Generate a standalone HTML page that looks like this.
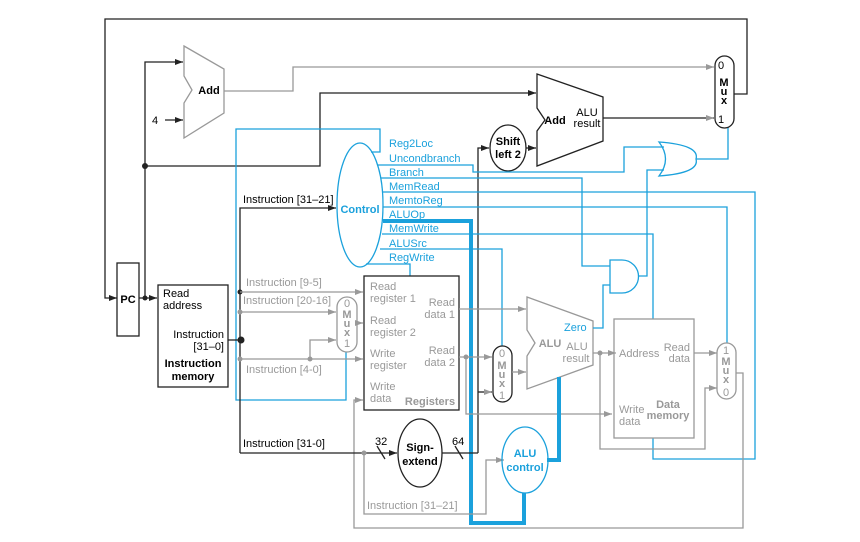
<!DOCTYPE html>
<html><head><meta charset="utf-8"><style>
html,body{margin:0;padding:0;background:#fff;}
svg{display:block;font-family:"Liberation Sans",sans-serif;}
.k{stroke:#222;fill:none;stroke-width:1.3}
.g{stroke:#999;fill:none;stroke-width:1.3}
.b{stroke:#1ba1dc;fill:none;stroke-width:1.3}
.bt{stroke:#1ba1dc;fill:none;stroke-width:4}
text{font-size:11px}
.gt{fill:#999}
.bl{fill:#1ba1dc}
.bd{font-weight:bold}
</style></head><body>
<svg width="860" height="542" viewBox="0 0 860 542" xmlns="http://www.w3.org/2000/svg">
<defs>
<marker id="ak" markerWidth="8" markerHeight="6" refX="8" refY="3" orient="auto" markerUnits="userSpaceOnUse"><path d="M0,0L8,3L0,6Z" fill="#222"/></marker>
<marker id="ag" markerWidth="8" markerHeight="6" refX="8" refY="3" orient="auto" markerUnits="userSpaceOnUse"><path d="M0,0L8,3L0,6Z" fill="#999"/></marker>
</defs>

<!-- top loop -->
<polyline class="k" points="734,94 747,94 747,19 105,19 105,298 117,298" marker-end="url(#ak)"/>
<!-- PC -->
<rect class="k" x="117" y="263" width="22" height="73"/>
<text x="128" y="303" text-anchor="middle" class="bd" font-size="12">PC</text>
<line class="k" x1="139" y1="298" x2="157" y2="298" marker-end="url(#ak)"/>
<circle cx="145" cy="298" r="2.5" fill="#222"/>
<polyline class="k" points="145,298 145,62 183,62" marker-end="url(#ak)"/>
<circle cx="145" cy="166" r="3" fill="#222"/>
<polyline class="k" points="145,166 320,166 320,93 536,93" marker-end="url(#ak)"/>

<!-- Add 1 -->
<polygon class="g" points="184,46 224,69 224,113 184,138 184,103 192,90 184,76"/>
<text x="209" y="94" text-anchor="middle" class="bd">Add</text>
<text x="152" y="124">4</text>
<line class="k" x1="165" y1="120" x2="183" y2="120" marker-end="url(#ak)"/>
<polyline class="g" points="224,91 293,91 293,67 714,67" marker-end="url(#ag)"/>

<!-- Add 2 -->
<polygon class="k" points="537,74 603,97 603,141 537,166 537,131 545,120 537,108"/>
<text x="555" y="124" text-anchor="middle" class="bd">Add</text>
<text x="587" y="116" text-anchor="middle" font-size="11">ALU</text>
<text x="587" y="127" text-anchor="middle" font-size="11">result</text>
<line class="k" x1="603" y1="118" x2="714" y2="118" marker-end="url(#ag)"/>

<!-- top mux -->
<rect class="k" x="715" y="56" width="19" height="72" rx="9.5" stroke="#999"/>
<text x="718" y="69" font-size="10">0</text>
<text x="724" y="86" text-anchor="middle" class="bd" font-size="10">M</text>
<text x="724" y="95" text-anchor="middle" class="bd" font-size="10">u</text>
<text x="724" y="104" text-anchor="middle" class="bd" font-size="10">x</text>
<text x="718" y="123" font-size="10">1</text>

<!-- shift left 2 -->
<ellipse class="k" cx="508" cy="148" rx="18" ry="23"/>
<text x="508" y="145" text-anchor="middle" class="bd">Shift</text>
<text x="508" y="158" text-anchor="middle" class="bd">left 2</text>
<line class="k" x1="526" y1="148" x2="536" y2="148" marker-end="url(#ak)"/>
<polyline class="k" points="478,453 478,148 489,148" marker-end="url(#ak)"/>

<!-- OR gate -->
<path class="b" d="M659,142 Q700,145 696,159 Q700,173 659,176 Q672,159 659,142 Z"/>
<polyline class="b" points="696,159 728,159 728,128"/>
<!-- AND gate -->
<path class="b" d="M610,260 L622,260 A16.5,16.5 0 0 1 622,293 L610,293 Z"/>
<polyline class="b" points="638,276 647,276 647,170 664,170"/>

<!-- Control -->
<ellipse class="b" cx="360" cy="205" rx="23" ry="62"/>
<text x="360" y="213" text-anchor="middle" class="bd bl">Control</text>
<g class="bl">
<text x="389" y="147">Reg2Loc</text>
<text x="389" y="162">Uncondbranch</text>
<text x="389" y="176">Branch</text>
<text x="389" y="190">MemRead</text>
<text x="389" y="204">MemtoReg</text>
<text x="389" y="218">ALUOp</text>
<text x="389" y="232">MemWrite</text>
<text x="389" y="247">ALUSrc</text>
<text x="389" y="261">RegWrite</text>
</g>
<!-- control wires -->
<polyline class="b" points="371,152 380,152 380,129 236,129 236,400 346,400 346,352"/>
<polyline class="b" points="378,165 473,165 473,172 624,172 624,147 664,147"/>
<polyline class="b" points="381,178 582,178 582,266 610,266"/>
<polyline class="b" points="382,192 755,192 755,459 653,459 653,438"/>
<polyline class="b" points="383,207 727,207 727,343"/>
<polyline class="bt" points="383,221 471,221 471,523 524,523 524,493"/>
<polyline class="b" points="382,234 653,234 653,319"/>
<polyline class="b" points="380,249 502,249 502,346"/>
<polyline class="b" points="366,264 410,264 410,276"/>

<!-- Instruction memory -->
<rect class="k" x="158" y="285" width="70" height="102"/>
<text x="163" y="297">Read</text>
<text x="163" y="309">address</text>
<text x="224" y="338" text-anchor="end">Instruction</text>
<text x="224" y="350" text-anchor="end">[31–0]</text>
<text x="193" y="367" text-anchor="middle" class="bd">Instruction</text>
<text x="193" y="380" text-anchor="middle" class="bd">memory</text>
<line class="k" x1="228" y1="340" x2="241" y2="340" stroke-width="2"/>
<circle cx="241" cy="340" r="3.5" fill="#222"/>
<text x="243" y="203">Instruction [31–21]</text>
<polyline class="k" points="240,453 240,208 336,208" marker-end="url(#ak)"/>
<circle cx="240" cy="292" r="2.5" fill="#222"/>
<polyline class="g" points="240,292 363,292" marker-end="url(#ag)"/>
<text x="246" y="286" class="gt">Instruction [9-5]</text>
<circle cx="240" cy="312" r="2.5" fill="#999"/>
<line class="g" x1="240" y1="312" x2="336" y2="312" marker-end="url(#ag)"/>
<text x="243" y="304" class="gt">Instruction [20-16]</text>
<circle cx="240" cy="359" r="2.5" fill="#999"/>
<line class="g" x1="240" y1="359" x2="363" y2="359" marker-end="url(#ag)"/>
<circle cx="310" cy="359" r="2.5" fill="#999"/>
<polyline class="g" points="310,359 310,340 336,340" marker-end="url(#ag)"/>
<text x="246" y="373" class="gt">Instruction [4-0]</text>

<!-- reg mux -->
<rect class="g" x="337" y="297" width="20" height="55" rx="10"/>
<g class="gt" font-size="10" text-anchor="middle">
<text x="347" y="307">0</text>
<text x="347" y="318" class="bd">M</text>
<text x="347" y="327" class="bd">u</text>
<text x="347" y="336" class="bd">x</text>
<text x="347" y="347">1</text>
</g>
<line class="g" x1="357" y1="323" x2="363" y2="323" marker-end="url(#ag)"/>

<!-- Registers -->
<rect class="k" x="364" y="276" width="95" height="134"/>
<g class="gt">
<text x="370" y="290">Read</text>
<text x="370" y="302">register 1</text>
<text x="370" y="324">Read</text>
<text x="370" y="336">register 2</text>
<text x="370" y="357">Write</text>
<text x="370" y="369">register</text>
<text x="370" y="390">Write</text>
<text x="370" y="402">data</text>
<text x="455" y="306" text-anchor="end">Read</text>
<text x="455" y="318" text-anchor="end">data 1</text>
<text x="455" y="354" text-anchor="end">Read</text>
<text x="455" y="366" text-anchor="end">data 2</text>
<text x="430" y="405" text-anchor="middle" class="bd">Registers</text>
</g>
<line class="g" x1="459" y1="309" x2="526" y2="309" marker-end="url(#ag)"/>
<line class="g" x1="459" y1="357" x2="492" y2="357" marker-end="url(#ag)"/>
<circle cx="466" cy="357" r="2.5" fill="#999"/>
<polyline class="g" points="466,357 466,414 612,414" marker-end="url(#ag)"/>
<polyline class="g" points="736,373 743,373 743,528 354,528 354,400 363,400" marker-end="url(#ag)"/>

<!-- Sign extend -->
<text x="243" y="447">Instruction [31-0]</text>
<line class="k" x1="240" y1="453" x2="397" y2="453" marker-end="url(#ak)"/>
<line class="k" x1="442" y1="453" x2="478" y2="453"/>
<line class="k" x1="377" y1="446" x2="385" y2="459"/>
<line class="k" x1="455" y1="446" x2="463" y2="459"/>
<text x="375" y="445">32</text>
<text x="452" y="445">64</text>
<ellipse class="k" cx="420" cy="453" rx="22" ry="34"/>
<text x="420" y="451" text-anchor="middle" class="bd">Sign-</text>
<text x="420" y="465" text-anchor="middle" class="bd">extend</text>
<circle cx="364" cy="453" r="2.5" fill="#999"/>
<polyline class="g" points="364,453 364,514 486,514 486,460 504,460" marker-end="url(#ag)"/>
<text x="367" y="509" class="gt">Instruction [31–21]</text>

<!-- ALU mux -->
<line class="k" x1="478" y1="392" x2="492" y2="392" marker-end="url(#ag)"/>
<rect class="k" x="493" y="346" width="19" height="56" rx="9.5"/>
<g font-size="10" text-anchor="middle" class="gt">
<text x="502" y="357">0</text>
<text x="502" y="369" class="bd">M</text>
<text x="502" y="378" class="bd">u</text>
<text x="502" y="387" class="bd">x</text>
<text x="502" y="399">1</text>
</g>
<line class="g" x1="512" y1="372" x2="526" y2="372" marker-end="url(#ag)"/>

<!-- ALU -->
<polygon class="g" points="527,297 593,321 593,365 527,389 527,356 535,343 527,330"/>
<text x="550" y="347" text-anchor="middle" class="bd gt">ALU</text>
<text x="577" y="350" text-anchor="middle" class="gt">ALU</text>
<text x="576" y="362" text-anchor="middle" class="gt">result</text>
<text x="564" y="331" class="bl">Zero</text>
<polyline class="b" points="593,328 603,328 603,285 610,285"/>
<line class="g" x1="593" y1="353" x2="616" y2="353" marker-end="url(#ag)"/>
<circle cx="600" cy="353" r="2.5" fill="#999"/>
<polyline class="g" points="600,353 600,449 705,449 705,388 717,388" marker-end="url(#ag)"/>
<polyline class="bt" points="559,377 559,460 547,460"/>

<!-- ALU control -->
<ellipse class="b" cx="525" cy="460" rx="23" ry="33"/>
<text x="525" y="457" text-anchor="middle" class="bd bl">ALU</text>
<text x="525" y="471" text-anchor="middle" class="bd bl">control</text>

<!-- Data memory -->
<rect class="g" x="614" y="319" width="80" height="119"/>
<g class="gt">
<text x="619" y="357">Address</text>
<text x="690" y="351" text-anchor="end">Read</text>
<text x="690" y="362" text-anchor="end">data</text>
<text x="619" y="413">Write</text>
<text x="619" y="425">data</text>
<text x="668" y="408" text-anchor="middle" class="bd">Data</text>
<text x="668" y="419" text-anchor="middle" class="bd">memory</text>
</g>
<line class="g" x1="694" y1="353" x2="717" y2="353" marker-end="url(#ag)"/>
<rect class="g" x="717" y="343" width="19" height="56" rx="9.5"/>
<g font-size="10" text-anchor="middle" class="gt">
<text x="726" y="354">1</text>
<text x="726" y="365" class="bd">M</text>
<text x="726" y="374" class="bd">u</text>
<text x="726" y="383" class="bd">x</text>
<text x="726" y="396">0</text>
</g>
</svg>
</body></html>
